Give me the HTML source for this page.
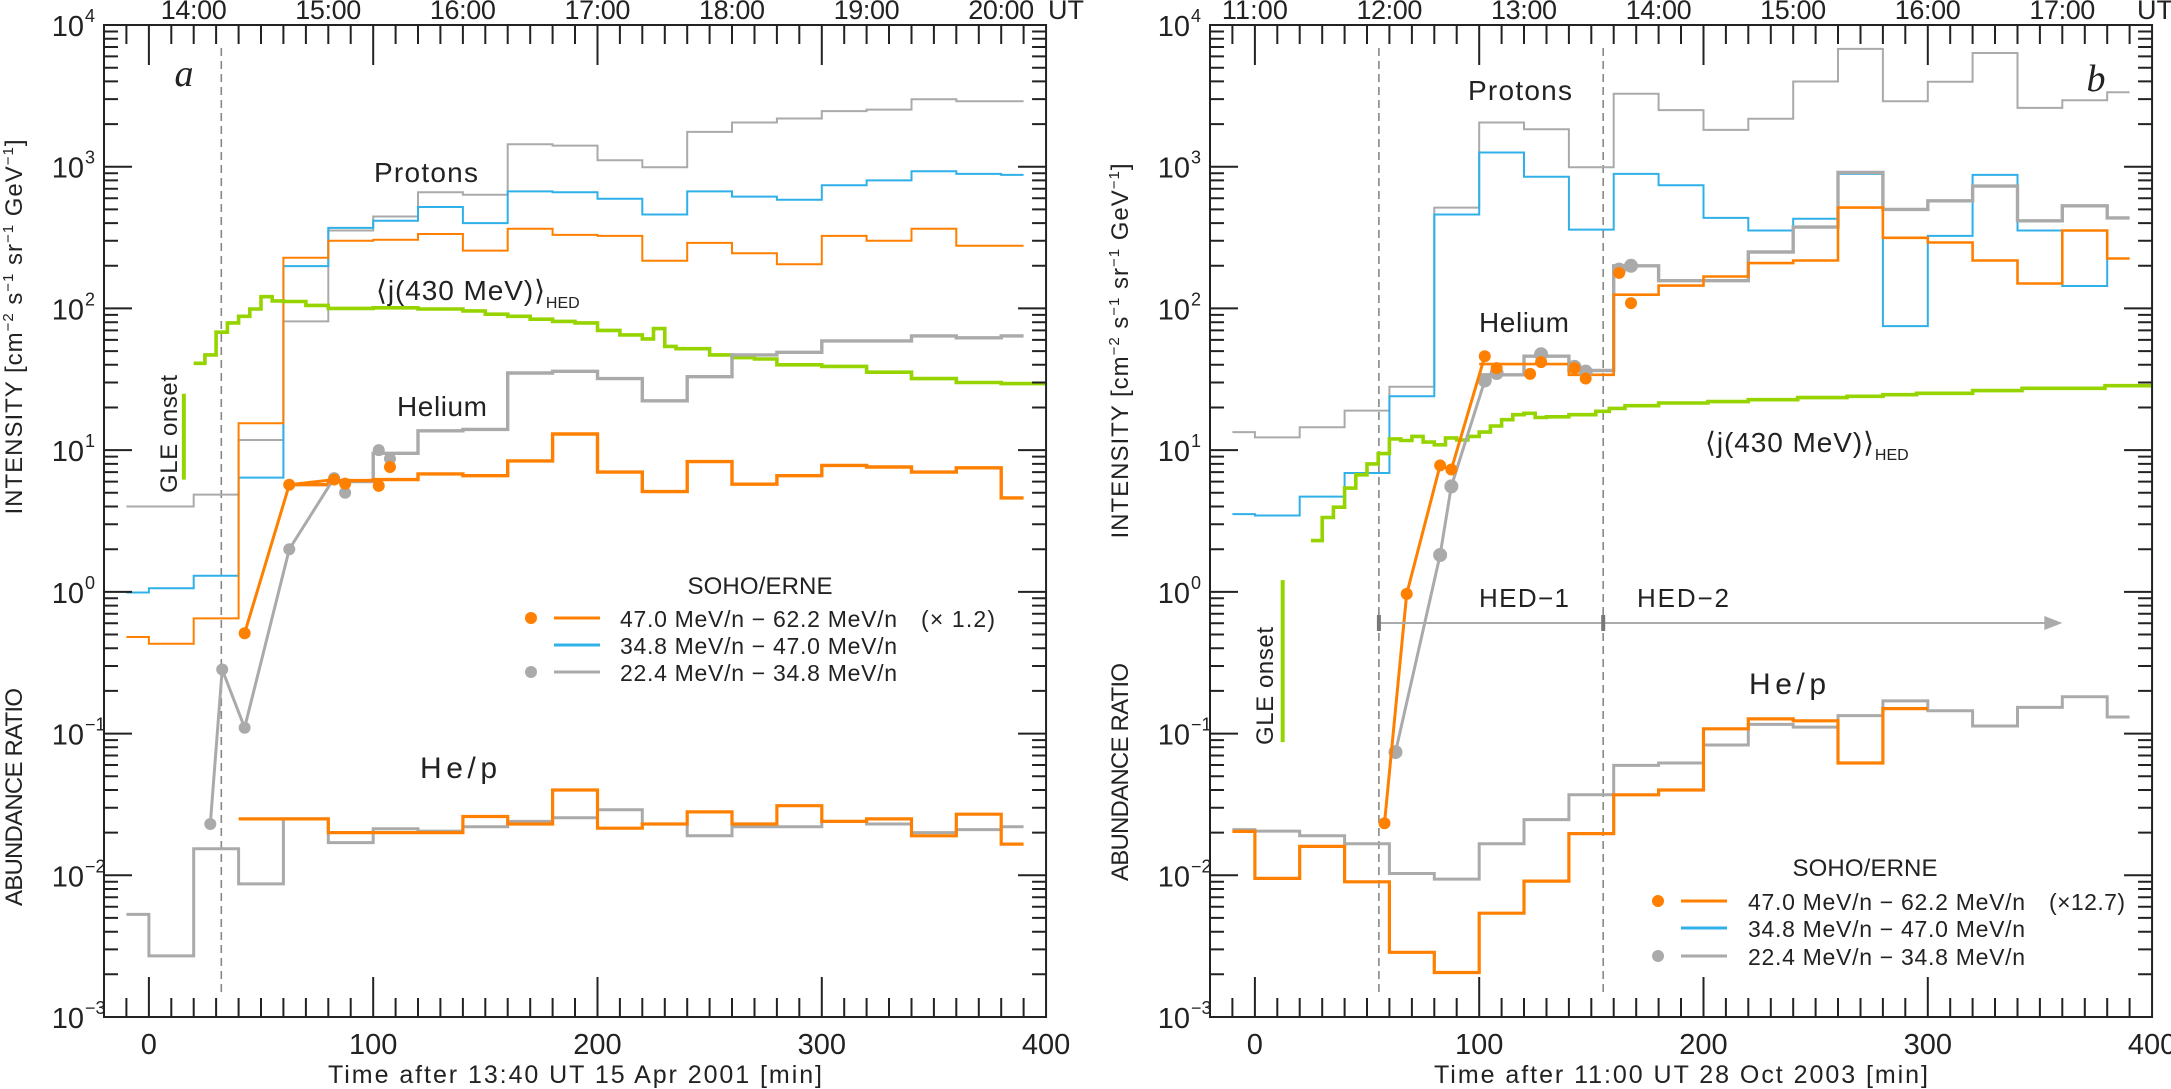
<!DOCTYPE html>
<html><head><meta charset="utf-8"><style>
html,body{margin:0;padding:0;background:#fff;}
svg{display:block;font-family:"Liberation Sans",sans-serif;}
</style></head><body>
<svg id="fig" width="2171" height="1089" viewBox="0 0 2171 1089" xmlns="http://www.w3.org/2000/svg">
<g id="layer"></g>
<g fill="#222" font-size="28">
  <text x="184" y="86" font-family="Liberation Serif,serif" font-style="italic" font-size="38" text-anchor="middle">a</text>
  <text x="374" y="182" textLength="104">Protons</text>
  <text x="376" y="300"><tspan textLength="169">⟨j(430 MeV)⟩</tspan><tspan font-size="16" dy="8">HED</tspan></text>
  <text x="397" y="416" textLength="90">Helium</text>
  <text x="420" y="778" font-size="30" textLength="77">He/p</text>
  <text transform="translate(177,434) rotate(-90)" text-anchor="middle" font-size="24" textLength="118">GLE onset</text>
  <text x="760" y="594" text-anchor="middle" font-size="24" textLength="145">SOHO/ERNE</text>
  <text x="620" y="627" font-size="23" textLength="277">47.0 MeV/n − 62.2 MeV/n</text>
  <text x="921" y="627" font-size="23" textLength="74">(× 1.2)</text>
  <text x="620" y="654" font-size="23" textLength="277">34.8 MeV/n − 47.0 MeV/n</text>
  <text x="620" y="681" font-size="23" textLength="277">22.4 MeV/n − 34.8 MeV/n</text>
  <text x="575" y="1083" text-anchor="middle" font-size="25" textLength="494">Time after 13:40 UT 15 Apr 2001 [min]</text>
  <text transform="translate(22,327) rotate(-90)" text-anchor="middle" font-size="24" textLength="375">INTENSITY [cm<tspan font-size="15" dy="-9">−2</tspan><tspan dy="9"> s</tspan><tspan font-size="15" dy="-9">−1</tspan><tspan dy="9"> sr</tspan><tspan font-size="15" dy="-9">−1</tspan><tspan dy="9"> GeV</tspan><tspan font-size="15" dy="-9">−1</tspan><tspan dy="9">]</tspan></text>
  <text transform="translate(22,797) rotate(-90)" text-anchor="middle" font-size="24" textLength="218">ABUNDANCE RATIO</text>
</g>
<g fill="#222" font-size="28">
  <text x="2096" y="91" font-family="Liberation Serif,serif" font-style="italic" font-size="38" text-anchor="middle">b</text>
  <text x="1468" y="100" textLength="104">Protons</text>
  <text x="1479" y="332" textLength="90">Helium</text>
  <text x="1705" y="452"><tspan textLength="169">⟨j(430 MeV)⟩</tspan><tspan font-size="16" dy="8">HED</tspan></text>
  <text x="1749" y="694" font-size="30" textLength="77">He/p</text>
  <text x="1524" y="607" text-anchor="middle" font-size="26" textLength="90">HED−1</text>
  <text x="1683" y="607" text-anchor="middle" font-size="26" textLength="92">HED−2</text>
  <text transform="translate(1273,686) rotate(-90)" text-anchor="middle" font-size="24" textLength="118">GLE onset</text>
  <text x="1865" y="876" text-anchor="middle" font-size="24" textLength="145">SOHO/ERNE</text>
  <text x="1748" y="910" font-size="23" textLength="277">47.0 MeV/n − 62.2 MeV/n</text>
  <text x="2049" y="910" font-size="23" textLength="76">(×12.7)</text>
  <text x="1748" y="937" font-size="23" textLength="277">34.8 MeV/n − 47.0 MeV/n</text>
  <text x="1748" y="965" font-size="23" textLength="277">22.4 MeV/n − 34.8 MeV/n</text>
  <text x="1681" y="1083" text-anchor="middle" font-size="25" textLength="494">Time after 11:00 UT 28 Oct 2003 [min]</text>
  <text transform="translate(1128,351) rotate(-90)" text-anchor="middle" font-size="24" textLength="375">INTENSITY [cm<tspan font-size="15" dy="-9">−2</tspan><tspan dy="9"> s</tspan><tspan font-size="15" dy="-9">−1</tspan><tspan dy="9"> sr</tspan><tspan font-size="15" dy="-9">−1</tspan><tspan dy="9"> GeV</tspan><tspan font-size="15" dy="-9">−1</tspan><tspan dy="9">]</tspan></text>
  <text transform="translate(1128,772) rotate(-90)" text-anchor="middle" font-size="24" textLength="218">ABUNDANCE RATIO</text>
</g>
</svg>
<script>
// ---- shared bins (minutes) ----
const binEdges = [-10,0,20,40,60,80,100,120,140,160,180,200,220,240,260,280,300,320,340,360,380,390];
const xTicksMajor = [0,100,200,300,400];
const yDecades = [-3,-2,-1,0,1,2,3,4];
const topLabelsA = ["14:00","15:00","16:00","17:00","18:00","19:00","20:00"];
const topTimesA = [20,80,140,200,260,320,380];
const topLabelsB = ["11:00","12:00","13:00","14:00","15:00","16:00","17:00"];
const topTimesB = [0,60,120,180,240,300,360];
// ---- panel a data ----
const protonGrayA = [4.0,4.0,4.86,11.8,81,355,445,660,635,1440,1410,1110,990,1760,2050,2190,2470,2530,2990,2900,2900];
const protonBlueA = [0.99,1.06,1.3,6.4,199,370,415,520,400,670,660,595,460,670,615,585,740,800,930,890,875];
const protonOrangeA = [0.48,0.43,0.65,15.5,228,300,305,335,256,365,330,325,217,290,245,205,325,300,365,277,277];
const heliumGrayA = [null,null,null,null,null,6.0,9.5,13.7,14,35,36,32,22.3,33,47,49,59,59,64,62,64];
const heliumOrangeA = [null,null,null,null,5.7,6.1,6.2,6.8,6.6,8.4,13,7.0,5.1,8.3,5.75,6.6,7.8,7.6,7.0,7.5,4.6];
const hepOrangeA = [null,null,null,0.025,0.025,0.020,0.020,0.020,0.026,0.023,0.040,0.0215,0.023,0.028,0.023,0.031,0.024,0.025,0.019,0.027,0.0166];
const hepGrayA = [0.0053,0.0027,0.0154,0.0087,0.025,0.017,0.0213,0.0205,0.022,0.024,0.0255,0.029,0.023,0.019,0.022,0.022,0.024,0.023,0.020,0.021,0.022];
const hedEdgesA = [20,25,30,35,40,45,50,55,60,70,80,100,120,140,150,160,170,180,190,200,210,220,225,230,235,250,260,270,280,300,320,340,360,380,400];
const hedValuesA = [41,47,68,79,88,99,121,113,112,105,100,101,99,96,91,88,84,81,79,70,65,61,72,54,52,47,45,44,40,39,35.5,32,30,29.5];
const ptsOrangeTA = [42.7,62.6,82.6,87.5,102.5,107.5];
const ptsOrangeVA = [0.51,5.7,6.2,5.8,5.6,7.6];
const ptsGrayTA = [27.4,32.7,42.7,62.6,82.6,87.5,102.5,107.5];
const ptsGrayVA = [0.023,0.283,0.11,2.0,6.35,5.0,10,8.7];
// ---- panel b data ----
const protonGrayB = [13.4,12.3,14.5,19,28,515,2050,1840,990,3270,2510,1820,2180,3990,6780,2900,3980,6340,2600,2940,3350];
const protonBlueB = [3.54,3.46,4.7,6.9,24,460,1260,850,360,890,740,435,355,430,890,75,325,875,355,144,225];
const heliumGrayB = [null,null,null,null,null,null,34,46,36.5,200,157,157,250,375,910,500,575,730,415,530,435];
const heliumOrangeB = [null,null,null,null,null,null,40.5,40.5,34,125,145,168,209,218,515,315,292,218,150,355,225];
const hepOrangeB = [0.0204,0.0095,0.016,0.0090,0.00286,0.00206,0.0054,0.0091,0.0197,0.037,0.040,0.108,0.127,0.123,0.062,0.150,null,null,null,null,null];
const hepGrayB = [0.021,0.0205,0.019,0.0167,0.0103,0.0094,0.0167,0.0247,0.037,0.0596,0.062,0.083,0.116,0.111,0.134,0.170,0.145,0.113,0.153,0.182,0.131];
const hedEdgesB = [25,30,35,40,45,50,55,60,65,70,75,80,85,90,95,100,105,110,115,120,125,130,140,152,158,165,180,202,220,242,264,280,295,320,342,379,400];
const hedValuesB = [2.3,3.35,3.96,5.4,6.7,8.0,9.45,12,11.7,12.5,11.4,10.9,12.2,11.8,12.5,13.4,14.8,16.4,17.8,18.2,17,17.2,17.8,18.8,19.7,20.6,21.5,22,22.7,23.5,24,24.6,25.2,26.3,27.3,28.5];
const ptsOrangeTB = [57.8,67.7,82.6,87.6,102.5,107.8,122.7,127.6,142.5,147.5,162.4,167.7];
const ptsOrangeVB = [0.0233,0.967,7.8,7.3,46,37.9,34.5,41.8,37.9,32,178,109];
const ptsGrayTB = [62.7,82.6,87.6,102.5,107.8,127.6,142.5,147.5,162.4,167.7];
const ptsGrayVB = [0.074,1.82,5.55,31,35,47.5,38.7,35.8,188,200];
const gleA = [15.6, 6.2, 25];
const gleB = [12.4, 0.087, 1.21];
const dashesA = [32.3];
const dashesB = [55.3, 155.3];

const C = {orange:"#ff8000", blue:"#2fb0e8", gray:"#aaaaaa", green:"#96d400", black:"#222"};
const TOP = 25, BOT = 1017, PXMIN = 2.243;
const NS = "http://www.w3.org/2000/svg";
const layer = document.getElementById('layer');

function mk(tag, attrs, parent) {
  const e = document.createElementNS(NS, tag);
  for (const k in attrs) e.setAttribute(k, attrs[k]);
  (parent || layer).appendChild(e);
  return e;
}
function xs(p, t) { return p.x0 + (t + 20) * PXMIN; }
function ys(v) { return BOT - (Math.log10(v) + 3) * ((BOT - TOP) / 7); }

function stepPath(p, edges, vals) {
  let d = "", prev = null;
  for (let i = 0; i < vals.length; i++) {
    const v = vals[i];
    if (v == null) { prev = null; continue; }
    const x1 = xs(p, edges[i]).toFixed(1), x2 = xs(p, edges[i + 1]).toFixed(1), y = ys(v).toFixed(1);
    d += (prev == null ? "M" + x1 + " " + y : "L" + x1 + " " + y) + "H" + x2;
    prev = v;
  }
  return d;
}
function drawStep(p, edges, vals, color, w, name) {
  const e = mk('path', {d: stepPath(p, edges, vals), fill: 'none', stroke: color, 'stroke-width': w, 'stroke-linejoin': 'miter'}, p.g);
  
  
}
function drawPoints(p, ts, vs, nConn, color, r, name) {
  let d = "";
  for (let i = 0; i < nConn; i++) d += (i ? "L" : "M") + xs(p, ts[i]).toFixed(1) + " " + ys(vs[i]).toFixed(1);
  const l = mk('path', {d: d, fill: 'none', stroke: color, 'stroke-width': 3}, p.g);
  
  
  for (let i = 0; i < ts.length; i++) {
    const c = mk('circle', {cx: xs(p, ts[i]), cy: ys(vs[i]), r: r, fill: color}, p.g);
    
    
  }
}
function axes(p, topT, topL) {
  const g = mk('g', {}, p.g);
  
  
  const x1 = p.x0, x2 = p.x0 + 420 * PXMIN;
  let d = "";
  for (let t = -10; t <= 390; t += 10) {
    const x = xs(p, t).toFixed(1);
    const major = xTicksMajor.indexOf(t) >= 0;
    const L = major ? 40 : 19;
    d += "M" + x + " " + BOT + "v" + (-L) + "M" + x + " " + TOP + "v" + L;
  }
  for (const k of yDecades) {
    for (let m = 1; m <= 9; m++) {
      if (k === 4 && m > 1) break;
      const y = ys(m * Math.pow(10, k)).toFixed(1);
      const L = m === 1 ? 28 : 14;
      d += "M" + x1 + " " + y + "h" + L + "M" + x2 + " " + y + "h" + (-L);
    }
  }
  const tk = mk('path', {d: d, stroke: C.black, 'stroke-width': 2, fill: 'none'}, g);
  
  
  const box = mk('rect', {x: x1, y: TOP, width: x2 - x1, height: BOT - TOP, fill: 'none', stroke: C.black, 'stroke-width': 2}, g);
  
  
  for (const t of xTicksMajor) {
    const tx = mk('text', {x: xs(p, t), y: 1054, 'text-anchor': 'middle', 'font-size': 29, fill: C.black}, g);
    tx.textContent = String(t);
    
    
  }
  for (const k of yDecades) {
    const y = ys(Math.pow(10, k));
    const tx = mk('text', {x: x1 - 20, y: y + 11, 'text-anchor': 'end', 'font-size': 29, fill: C.black}, g);
    tx.textContent = "10";
    
    
    const sp = mk('text', {x: x1 - 19, y: y - 3, 'text-anchor': 'start', 'font-size': 18, fill: C.black}, g);
    sp.textContent = k < 0 ? "−" + (-k) : String(k);
    
    
  }
  for (let i = 0; i < topT.length; i++) {
    const tx = mk('text', {x: xs(p, topT[i]), y: 19, 'text-anchor': 'middle', 'font-size': 27, textLength: 66, fill: C.black}, g);
    tx.textContent = topL[i];
    
    
  }
  const ut = mk('text', {x: p.utX, y: 19, 'text-anchor': 'middle', 'font-size': 27, fill: C.black}, g);
  ut.textContent = "UT";
  
  
}
function dashes(p, ts) {
  for (const t of ts) {
    const l = mk('line', {x1: xs(p, t), x2: xs(p, t), y1: 48, y2: 994, stroke: '#888', 'stroke-width': 1.6, 'stroke-dasharray': '8 5'}, p.g);
    
    
  }
}
function gle(p, a) {
  const l = mk('line', {x1: xs(p, a[0]), x2: xs(p, a[0]), y1: ys(a[1]), y2: ys(a[2]), stroke: C.green, 'stroke-width': 4}, p.g);
  
  
}
function legend(p, lx, ys3, dx) {
  const cols = [C.orange, C.blue, C.gray];
  for (let i = 0; i < 3; i++) {
    const l = mk('line', {x1: lx, x2: lx + 46, y1: ys3[i], y2: ys3[i], stroke: cols[i], 'stroke-width': 3}, p.g);
    
    
    if (i !== 1) {
      const c = mk('circle', {cx: dx, cy: ys3[i], r: 6, fill: cols[i]}, p.g);
      
      
    }
  }
}

// panel a
const PA = {id: 'panel-a', x0: 104, utX: 1066};
PA.g = mk('g', {});


dashes(PA, dashesA);
drawStep(PA, binEdges, protonGrayA, C.gray, 2, 'proton-gray-a');
drawStep(PA, binEdges, protonBlueA, C.blue, 2, 'proton-blue-a');
drawStep(PA, binEdges, protonOrangeA, C.orange, 2, 'proton-orange-a');
drawStep(PA, hedEdgesA, hedValuesA, C.green, 3.6, 'hed-430mev-a');
drawStep(PA, binEdges, heliumGrayA, C.gray, 3.4, 'helium-gray-a');
drawStep(PA, binEdges, heliumOrangeA, C.orange, 3.4, 'helium-orange-a');
drawStep(PA, binEdges, hepGrayA, C.gray, 3, 'he-p-gray-a');
drawStep(PA, binEdges, hepOrangeA, C.orange, 3.2, 'he-p-orange-a');
drawPoints(PA, ptsGrayTA, ptsGrayVA, 5, C.gray, 6, 'helium-gray-early-a');
drawPoints(PA, ptsOrangeTA, ptsOrangeVA, 3, C.orange, 6, 'helium-orange-early-a');
gle(PA, gleA);
legend(PA, 554, [618, 645, 672], 531);
axes(PA, topTimesA, topLabelsA);

// panel b
const PB = {id: 'panel-b', x0: 1210, utX: 2155};
PB.g = mk('g', {});


dashes(PB, dashesB);
drawStep(PB, binEdges, protonGrayB, C.gray, 2, 'proton-gray-b');
drawStep(PB, binEdges, protonBlueB, C.blue, 2, 'proton-blue-b');
drawStep(PB, hedEdgesB, hedValuesB, C.green, 3.6, 'hed-430mev-b');
drawStep(PB, binEdges, heliumGrayB, C.gray, 3.4, 'helium-gray-b');
drawStep(PB, binEdges, heliumOrangeB, C.orange, 2.6, 'helium-orange-b');
drawStep(PB, binEdges, hepGrayB, C.gray, 3, 'he-p-gray-b');
drawStep(PB, binEdges, hepOrangeB, C.orange, 3.2, 'he-p-orange-b');
drawPoints(PB, ptsGrayTB, ptsGrayVB, 4, C.gray, 7, 'helium-gray-early-b');
drawPoints(PB, ptsOrangeTB, ptsOrangeVB, 5, C.orange, 6, 'helium-orange-early-b');
gle(PB, gleB);
const ay = 623;
const hx1 = xs(PB, dashesB[0]), hx2 = xs(PB, dashesB[1]), tip = xs(PB, 360);
const arr = mk('line', {x1: hx1, x2: tip - 14, y1: ay, y2: ay, stroke: '#aaa', 'stroke-width': 2}, PB.g);


const head = mk('polygon', {points: tip + "," + ay + " " + (tip - 18) + "," + (ay - 7) + " " + (tip - 18) + "," + (ay + 7), fill: '#aaa'}, PB.g);


for (const hx of [hx1, hx2]) {
  const t = mk('line', {x1: hx, x2: hx, y1: ay - 8, y2: ay + 8, stroke: '#777', 'stroke-width': 4}, PB.g);
  
  
}
legend(PB, 1681, [901, 928, 956], 1658);
axes(PB, topTimesB, topLabelsB);
</script>
</body></html>
